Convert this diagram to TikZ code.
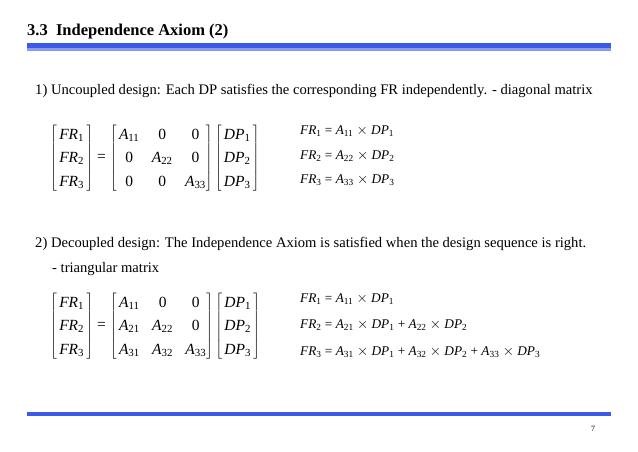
\documentclass[tikz,border=0pt]{standalone}
\usepackage{fontspec}
\setmainfont{Liberation Serif}
\usepackage{array}
\definecolor{barblue}{RGB}{60,90,230}
\tikzset{txt/.style={anchor=west,inner sep=0pt,font=\fontsize{14.6}{17}\selectfont},
 mat/.style={anchor=west,inner sep=0pt,font=\fontsize{15.5}{18}\selectfont},
 eq/.style={anchor=west,inner sep=0pt,font=\fontsize{13.3}{15}\selectfont}}
\newcommand{\vv}[2]{\textit{#1}\textsubscript{#2}}
\newcommand{\zz}{\textup{0}}
\newcommand{\mxA}[1]{\left[\renewcommand{\arraystretch}{1.3}\begin{array}{@{\,}l@{\,}}#1\end{array}\right]}
\newcommand{\mxB}[1]{\left[\renewcommand{\arraystretch}{1.3}\begin{array}{@{\,}c@{\hspace{0.8em}}c@{\hspace{0.8em}}c@{}}#1\end{array}\right]}
\begin{document}
\begin{tikzpicture}[x=1pt,y=-1pt]
\useasboundingbox (0,0) rectangle (638,451);
\node[anchor=west,inner sep=0pt,font=\fontsize{16.5}{19}\selectfont\bfseries] (title) at (27,32) {3.3\ \ Independence Axiom (2)};
\fill[barblue] (27,43) rectangle (611,51);
\fill[barblue!60] (27,48) rectangle (611,51);
\fill[barblue] (27,412) rectangle (611,416);
\node[anchor=center,inner sep=0pt,font=\fontsize{8}{9}\selectfont] (pg) at (593,429) {7};
\node[txt] (t1) at (35,91) {1) Uncoupled design: Each DP satisfies the corresponding FR independently. - diagonal matrix};
\node[mat] (m1) at (50,158) {$\mxA{\vv{FR}{1}\\\vv{FR}{2}\\\vv{FR}{3}} \mathrel{\textup{=}} \mxB{\vv{A}{11}&\zz&\zz\\\zz&\vv{A}{22}&\zz\\\zz&\zz&\vv{A}{33}}\mxA{\vv{DP}{1}\\\vv{DP}{2}\\\vv{DP}{3}}$};
\node[eq] (e11) at (300,131) {\vv{FR}{1} = \vv{A}{11} $\times$ \vv{DP}{1}};
\node[eq] (e12) at (300,156) {\vv{FR}{2} = \vv{A}{22} $\times$ \vv{DP}{2}};
\node[eq] (e13) at (300,180) {\vv{FR}{3} = \vv{A}{33} $\times$ \vv{DP}{3}};
\node[txt] (t2) at (35,244) {2) Decoupled design: The Independence Axiom is satisfied when the design sequence is right.};
\node[txt] (t3) at (52,269) {- triangular matrix};
\node[mat] (m2) at (50,326) {$\mxA{\vv{FR}{1}\\\vv{FR}{2}\\\vv{FR}{3}} \mathrel{\textup{=}} \mxB{\vv{A}{11}&\zz&\zz\\\vv{A}{21}&\vv{A}{22}&\zz\\\vv{A}{31}&\vv{A}{32}&\vv{A}{33}}\mxA{\vv{DP}{1}\\\vv{DP}{2}\\\vv{DP}{3}}$};
\node[eq] (e21) at (300,299) {\vv{FR}{1} = \vv{A}{11} $\times$ \vv{DP}{1}};
\node[eq] (e22) at (300,325) {\vv{FR}{2} = \vv{A}{21} $\times$ \vv{DP}{1} + \vv{A}{22} $\times$ \vv{DP}{2}};
\node[eq] (e23) at (300,352) {\vv{FR}{3} = \vv{A}{31} $\times$ \vv{DP}{1} + \vv{A}{32} $\times$ \vv{DP}{2} + \vv{A}{33} $\times$ \vv{DP}{3}};
\end{tikzpicture}
\end{document}
